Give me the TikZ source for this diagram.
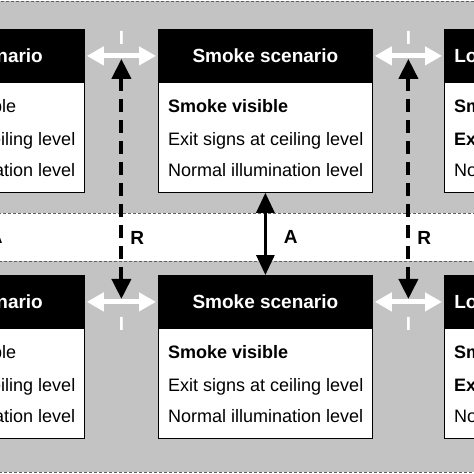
\documentclass[tikz,border=0pt]{standalone}
\usepackage{fontspec}
\setmainfont{Liberation Sans}
\usetikzlibrary{arrows.meta}

\definecolor{bandgray}{RGB}{195,195,195}
\definecolor{edgegray}{RGB}{95,95,95}

\tikzset{
  band/.style={fill=bandgray,draw=edgegray,line width=1pt,dash pattern=on 3pt off 2pt},
  scenhead/.style={fill=black,draw=black,line width=0.8pt,minimum width=214pt,minimum height=53pt,inner sep=0pt,anchor=north west},
  scenbody/.style={fill=white,draw=black,line width=0.8pt,minimum width=214pt,minimum height=110pt,inner sep=0pt,anchor=north west},
  headtext/.style={text=white,font=\bfseries\fontsize{19}{19}\selectfont,inner sep=0pt,anchor=base},
  bodytext/.style={font=\fontsize{18}{18}\selectfont,inner sep=0pt,anchor=base west},
  whitearrow/.style={{Triangle[width=18pt,length=17pt]}-{Triangle[width=18pt,length=17pt]},draw=white,line width=5pt,shorten <=2pt,shorten >=2pt},
  rarrow/.style={{Triangle[width=19pt,length=20pt]}-{Triangle[width=19pt,length=20pt]},line width=4pt,dash pattern=on 13pt off 8pt,shorten <=3pt,shorten >=3pt},
  aarrow/.style={{Triangle[width=18pt,length=20pt]}-{Triangle[width=18pt,length=20pt]},line width=3pt},
  lbl/.style={font=\bfseries\fontsize{19}{19}\selectfont,inner sep=0pt},
  ilbl/.style={lbl,text=white},
  ilbl-t/.style={ilbl,above=11pt},
  ilbl-b/.style={ilbl,below=15pt}
}

% one scenario box: name, x, y, header, three lines
\newcommand\scenbox[7]{%
  \node[scenhead] (#1-h) at (#2,#3) {};
  \node[scenbody] (#1-b) at (#2,#3+53) {};
  \node[headtext] at ([yshift=-33pt]#1-h.north) {#4};
  \node[bodytext] at ([xshift=10pt,yshift=-30pt]#1-b.north west) {#5};
  \node[bodytext] at ([xshift=10pt,yshift=-63pt]#1-b.north west) {#6};
  \node[bodytext] at ([xshift=10pt,yshift=-94pt]#1-b.north west) {#7};
}

\begin{document}
\begin{tikzpicture}[x=1pt,y=-1pt]
  \useasboundingbox (0,0) rectangle (474,474);
  \clip (0,0) rectangle (474,474);
  % grey bands
  \draw[band] (-5,1) rectangle (480,213);
  \draw[band] (-5,261) rectangle (480,472);
  % two rows of scenarios
  \foreach \r/\y in {t/29,b/275}{
    \scenbox{L\r}{-130}{\y}{Clear scenario}{No smoke visible}{Exit signs at ceiling level}{Normal illumination level}
    \scenbox{M\r}{158}{\y}{Smoke scenario}{\textbf{Smoke visible}}{Exit signs at ceiling level}{Normal illumination level}
    \scenbox{R\r}{444}{\y}{Lower signs scenario}{\textbf{Smoke visible}}{\textbf{Exit signs at floor level}}{Normal illumination level}
    \draw[whitearrow] (L\r-h.east) -- coordinate[pos=.5] (LM\r) (M\r-h.west);
    \draw[whitearrow] (M\r-h.east) -- coordinate[pos=.5] (MR\r) (R\r-h.west);
    \node[ilbl-\r] (LMi\r) at (LM\r) {I};
    \node[ilbl-\r] (MRi\r) at (MR\r) {I};
  }
  % links between rows
  \draw[aarrow] (Lt-b.south) -- (Lb-h.north) node[lbl,pos=.54,right=10pt] (La) {A};
  \draw[aarrow] (Mt-b.south) -- (Mb-h.north) node[lbl,pos=.54,right=17pt] (Ma) {A};
  \draw[rarrow] (LMt) -- (LMb) node[lbl,pos=.74,right=7pt] (LMr) {R};
  \draw[rarrow] (MRt) -- (MRb) node[lbl,pos=.74,right=7pt] (MRr) {R};
\end{tikzpicture}
\end{document}
